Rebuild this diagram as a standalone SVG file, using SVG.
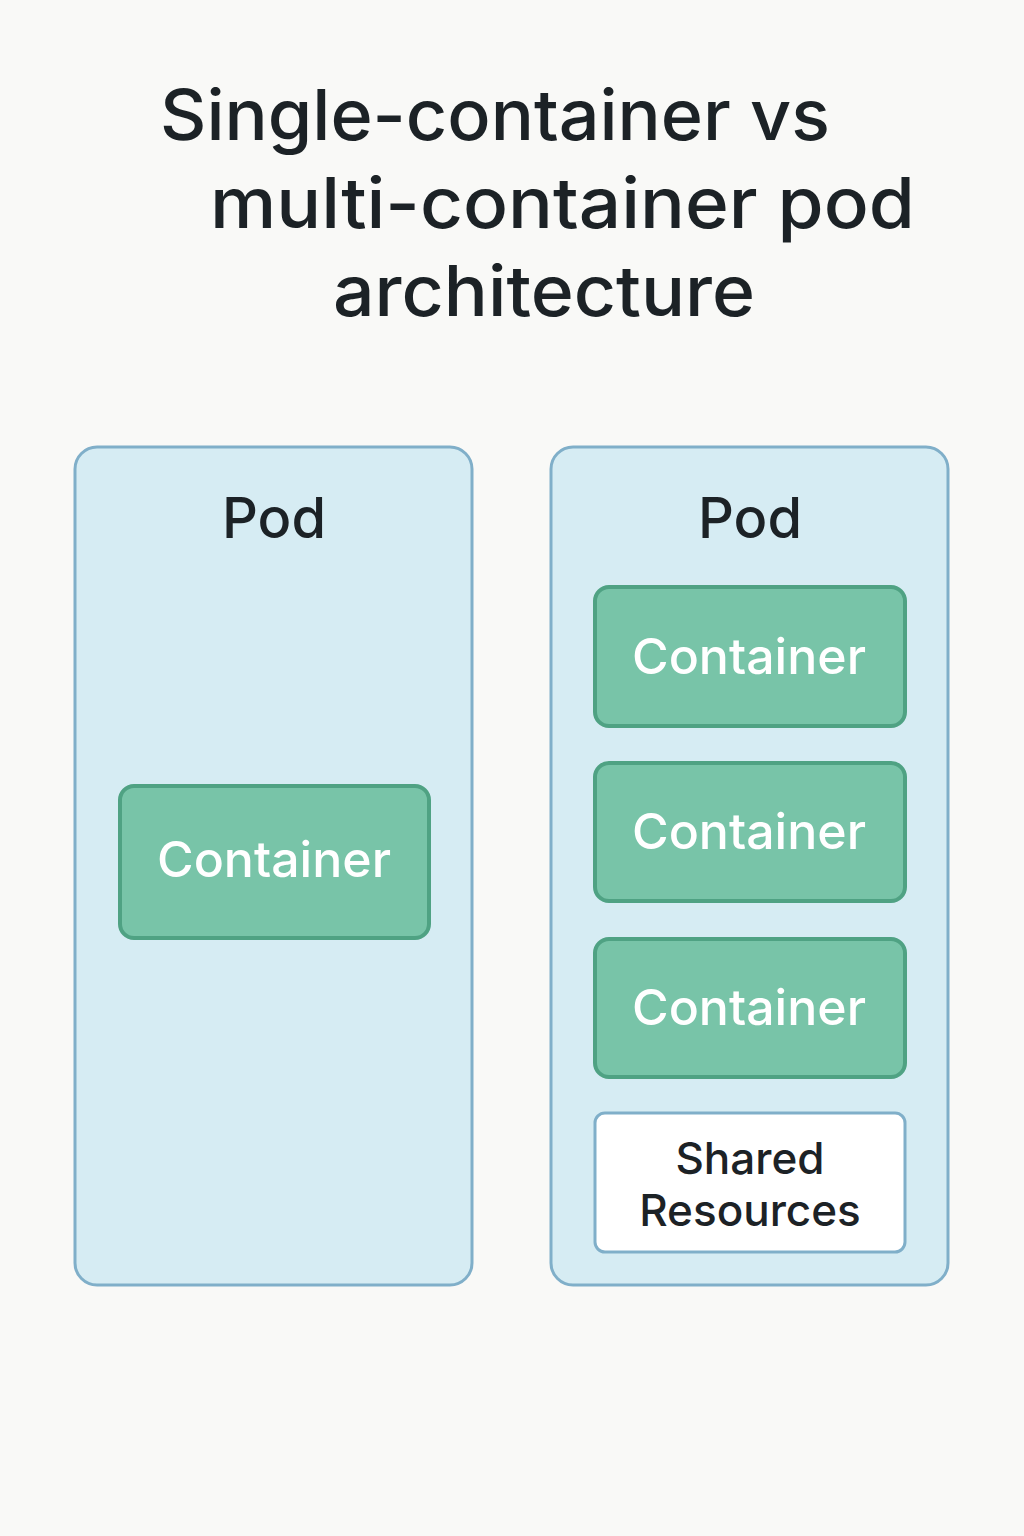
<svg xmlns="http://www.w3.org/2000/svg" width="1024" height="1536" viewBox="0 0 1024 1536">
<style>
.t{font-family:"Inter","Liberation Sans",sans-serif;fill:#1c2226;font-weight:500}
.pod{fill:#d6ecf3;stroke:#80afc9;stroke-width:3}
.ct{fill:#78c4a8;stroke:#4fa283;stroke-width:4}
.cl{font-family:"Inter","Liberation Sans",sans-serif;fill:#ffffff;font-size:50px;font-weight:500;text-anchor:middle}
</style>
<rect width="1024" height="1536" fill="#f9f9f7"/>
<g id="title" class="t" font-size="70">
<text x="160" y="140" textLength="670" lengthAdjust="spacingAndGlyphs">Single-container vs</text>
<text x="210" y="228" textLength="705" lengthAdjust="spacingAndGlyphs">multi-container pod</text>
<text x="333" y="316" textLength="422" lengthAdjust="spacingAndGlyphs">architecture</text>
</g>
<g id="pod1">
<rect class="pod" x="75" y="447" width="397" height="838" rx="22"/>
<text class="t" x="274" y="538" font-size="56" text-anchor="middle">Pod</text>
</g>
<g id="c1"><rect class="ct" x="120" y="786" width="309" height="152" rx="14"/><text class="cl" x="274" y="877">Container</text></g>
<g id="pod2">
<rect class="pod" x="551" y="447" width="397" height="838" rx="22"/>
<text class="t" x="750" y="538" font-size="56" text-anchor="middle">Pod</text>
</g>
<g id="c2"><rect class="ct" x="595" y="587" width="310" height="139" rx="14"/><text class="cl" x="749" y="674">Container</text></g>
<g id="c3"><rect class="ct" x="595" y="763" width="310" height="138" rx="14"/><text class="cl" x="749" y="849">Container</text></g>
<g id="c4"><rect class="ct" x="595" y="939" width="310" height="138" rx="14"/><text class="cl" x="749" y="1025">Container</text></g>
<g id="shared">
<rect x="595" y="1113" width="310" height="139" rx="10" fill="#ffffff" stroke="#80afc9" stroke-width="3"/>
<text class="t" x="750" y="1174" font-size="44" text-anchor="middle">Shared</text>
<text class="t" x="750" y="1226" font-size="44" text-anchor="middle">Resources</text>
</g>
<g id="connectors"/>
</svg>
